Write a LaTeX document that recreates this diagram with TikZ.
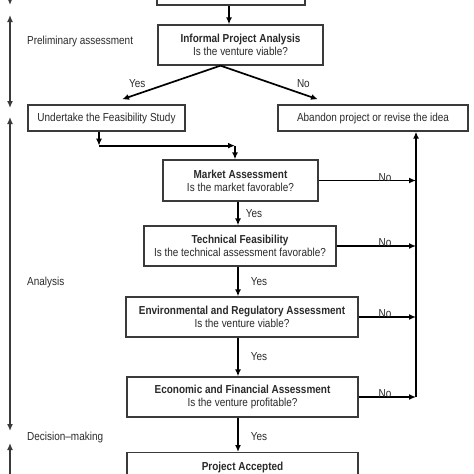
\documentclass[tikz,border=0pt]{standalone}
\usepackage{fontspec}
\setmainfont{Liberation Sans}[FakeStretch=0.86]
\usepackage{xcolor}
\usetikzlibrary{arrows.meta,positioning,calc}
\definecolor{flowink}{HTML}{2A2A2A}
\definecolor{flowline}{HTML}{3A3A3A}

\begin{document}
\begin{tikzpicture}[
    x=1pt,y=-1pt,
    stage/.style   = {draw=flowline, line width=1.3pt, fill=white, align=center,
                      font=\fontsize{11.6}{13}\selectfont, text=flowink,
                      inner sep=2pt},
    plain/.style   = {stage},
    flow/.style    = {-{Latex[length=7pt,width=6pt]}, black, line width=1.7pt},
    span/.style    = {{Latex[length=7pt,width=6pt]}-{Latex[length=7pt,width=6pt]},
                      flowline, line width=1.7pt},
    ans/.style     = {font=\fontsize{11.6}{13}\selectfont, text=flowink, inner sep=1pt},
    phase/.style   = {font=\fontsize{11.6}{13}\selectfont, text=flowink, anchor=west,
                      inner sep=0pt},
  ]
  \useasboundingbox (0,0) rectangle (474,474);

  % boxes of the flow
  \node[stage, minimum width=148, minimum height=40] (idea) at (231,-15) {};
  \node[stage, minimum width=165, minimum height=40] (ipa)  at (240.5,45)
       {\textbf{Informal Project Analysis}\\Is the venture viable?};
  \node[plain, minimum width=157, minimum height=26] (und)  at (106.5,118)
       {Undertake the Feasibility Study};
  \node[plain, minimum width=190, minimum height=26] (abd)  at (373,118)
       {Abandon project or revise the idea};
  \node[stage, minimum width=155, minimum height=41] (mkt)  at (240.5,180.5)
       {\textbf{Market Assessment}\\Is the market favorable?};
  \node[stage, minimum width=192, minimum height=40] (tech) at (240,246)
       {\textbf{Technical Feasibility}\\Is the technical assessment favorable?};
  \node[stage, minimum width=232, minimum height=40] (env)  at (242,317)
       {\textbf{Environmental and Regulatory Assessment}\\Is the venture viable?};
  \node[stage, minimum width=231, minimum height=40] (eco)  at (242.5,397)
       {\textbf{Economic and Financial Assessment}\\Is the venture profitable?};
  \node[stage, minimum width=231, minimum height=40, anchor=north] (acc) at (242.5,452)
       {\textbf{Project Accepted}\\\phantom{x}};

  % phases on the left
  \node[phase] (prelim) at (27,41)  {Preliminary assessment};
  \node[phase] (anl)    at (27,282) {Analysis};
  \node[phase] (dec)    at (27,437) {Decision--making};

  \coordinate (t0) at (10,-10);  \coordinate (t1) at (10,5);
  \coordinate (p0) at (10,15);   \coordinate (p1) at (10,108);
  \coordinate (a0) at (10,117);  \coordinate (a1) at (10,431);
  \coordinate (d0) at (10,443);  \coordinate (d1) at (10,490);
  \draw[flow, flowline] (t0) -- (t1);
  \draw[span] (p0) -- (p1);
  \draw[span] (a0) -- (a1);
  \draw[{Latex[length=7pt,width=6pt]}-, flowline, line width=1.7pt] (d0) -- (d1);

  % main flow
  \draw[flow] ([xshift=-2pt]idea.south) -- ([xshift=-11.5pt]ipa.north);
  \draw[flow] ([xshift=-20pt]ipa.south) -- node[ans, pos=0.54, left=20pt] {Yes}
       ([xshift=15.5pt,yshift=5pt]und.north);
  \draw[flow] ([xshift=-20pt]ipa.south) -- node[ans, pos=0.54, right=22pt] {No}
       ([xshift=-55pt,yshift=5pt]abd.north);

  \coordinate (c1) at ($(und.south)+(-7.5,14)$);
  \coordinate (c2) at (c1 -| 235,0);
  \draw[flow] ([xshift=-7.5pt]und.south) -- (c1);
  \draw[flow] (c1) -- (c2);
  \draw[flow] (c2) -- (c2 |- mkt.north);

  \draw[flow] (mkt.south -| 238,0) -- node[ans, right=6pt] {Yes} (tech.north -| 238,0);
  \draw[flow] (tech.south -| 238,0) -- node[ans, right=11pt] {Yes} (env.north -| 238,0);
  \draw[flow] (env.south -| 238,0) -- node[ans, right=11pt] {Yes} (eco.north -| 238,0);
  \draw[flow] (eco.south -| 238,0) -- node[ans, right=11pt, pos=0.55] {Yes} (acc.north -| 238,0);

  % rejections lead back to abandon
  \coordinate (rail) at (416,397);
  \draw[flow] (rail) -- (rail |- abd.south);
  \foreach \b in {mkt,tech,env,eco}{
    \draw[flow] (\b.east) -- (\b.east -| rail);
    \node[ans] (no\b) at ($(\b.east -| rail)+(-31,-3)$) {No};
  }

\end{tikzpicture}
\end{document}
